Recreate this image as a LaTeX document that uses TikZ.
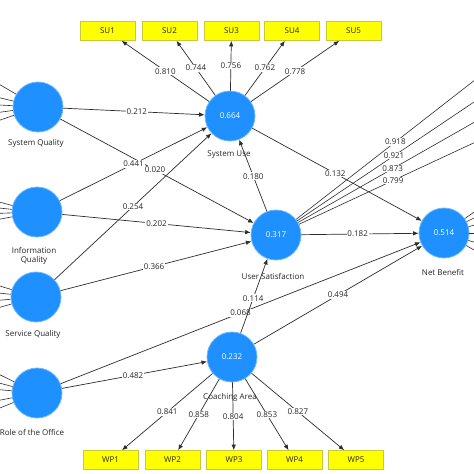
\documentclass[tikz,border=0pt]{standalone}
\usepackage{fontspec}
\setmainfont{Open Sans}
\usetikzlibrary{arrows.meta}
\definecolor{lv}{RGB}{30,144,255}
\definecolor{lvring}{RGB}{110,185,255}
\definecolor{ind}{RGB}{255,255,0}
\definecolor{indborder}{RGB}{200,200,60}
\definecolor{ln}{RGB}{45,45,45}
\begin{document}
\begin{tikzpicture}[x=1pt,y=-1pt,
  font=\fontsize{8}{9.5}\selectfont,
  lvnode/.style={circle, fill=lv, draw=lvring, line width=0.8pt, minimum size=50pt, inner sep=0pt, text=white},
  indbox/.style={rectangle, fill=ind, draw=indborder, line width=0.6pt, minimum width=55pt, minimum height=19pt, inner sep=0pt, text=black!85},
  conn/.style={draw=ln, line width=0.7pt, -{Latex[length=5.5pt,width=4.5pt]}},
  stub/.style={draw=ln, line width=0.6pt},
  lbl/.style={fill=white, inner sep=0.8pt, text=black!85},
  lvname/.style={text=black!85, align=center, inner sep=0pt}]
\clip (0,0) rectangle (474,474);
\fill[white] (0,0) rectangle (474,474);

% latent variables
\node[lvnode] (sq) at (38,107) {};
\node[lvnode] (iq) at (37,212) {};
\node[lvnode] (svq) at (36,297) {};
\node[lvnode] (ro) at (37,393) {};
\node[lvnode] (su) at (230,116) {0.664};
\node[lvnode] (us) at (276,235) {0.317};
\node[lvnode] (nb) at (444,233) {0.514};
\node[lvnode] (ca) at (232,357) {0.232};

% names
\node[lvname] (sqn) at (36,143) {System Quality};
\node[lvname] (iqn) at (34,256) {Information\\Quality};
\node[lvname] (svqn) at (33,334) {Service Quality};
\node[lvname] (ron) at (32,432) {Role of the Office};
\node[lvname] (sun) at (229,155) {System Use};
\node[lvname] (usn) at (273,276) {User Satisfaction};
\node[lvname] (nbn) at (443,272) {Net Benefit};
\node[lvname] (can) at (230,397) {Coaching Area};

% indicator boxes
\node[indbox] (su1) at (107.5,31) {SU1};
\node[indbox] (su2) at (169.5,31) {SU2};
\node[indbox] (su3) at (231.5,31) {SU3};
\node[indbox] (su4) at (292,31) {SU4};
\node[indbox] (su5) at (353.5,31) {SU5};
\node[indbox] (wp1) at (110.5,460) {WP1};
\node[indbox] (wp2) at (172.5,460) {WP2};
\node[indbox] (wp3) at (234,460) {WP3};
\node[indbox] (wp4) at (294.5,460) {WP4};
\node[indbox] (wp5) at (356,460) {WP5};

% off-canvas indicator ends
\coordinate (sqa) at (-20,73);
\coordinate (sqb) at (-20,93);
\coordinate (sqc) at (-20,104);
\coordinate (sqd) at (-20,115);
\coordinate (sqe) at (-20,127);
\coordinate (iqa) at (-20,197);
\coordinate (iqb) at (-20,206);
\coordinate (iqc) at (-20,214);
\coordinate (iqd) at (-20,223);
\coordinate (svqa) at (-20,280);
\coordinate (svqb) at (-20,291);
\coordinate (svqc) at (-20,302);
\coordinate (svqd) at (-20,313);
\coordinate (roa) at (-20,365);
\coordinate (rob) at (-20,378);
\coordinate (roc) at (-20,388);
\coordinate (rod) at (-20,404);
\coordinate (roe) at (-20,416);
\coordinate (nba) at (490,201);
\coordinate (nbb) at (490,210);
\coordinate (nbc) at (490,221);
\coordinate (nbd) at (490,233);
\coordinate (nbe) at (490,247);
\coordinate (nbf) at (490,259);
\coordinate (usa) at (480,76);
\coordinate (usb) at (480,98);
\coordinate (usc) at (480,119);
\coordinate (usd) at (480,140);

% stubs
\foreach \t in {sqa,sqb,sqc,sqd,sqe} \draw[stub] (sq) -- (\t);
\foreach \t in {iqa,iqb,iqc,iqd} \draw[stub] (iq) -- (\t);
\foreach \t in {svqa,svqb,svqc,svqd} \draw[stub] (svq) -- (\t);
\foreach \t in {roa,rob,roc,rod,roe} \draw[stub] (ro) -- (\t);
\foreach \t in {nba,nbb,nbc,nbd,nbe,nbf} \draw[stub] (nb) -- (\t);

% user satisfaction indicators (off canvas)
\draw[stub] (us) -- node[lbl, pos=0.54] {0.918} (usa);
\draw[stub] (us) -- node[lbl, pos=0.53] {0.921} (usb);
\draw[stub] (us) -- node[lbl, pos=0.52] {0.873} (usc);
\draw[stub] (us) -- node[lbl, pos=0.52] {0.799} (usd);

% structural paths
\draw[conn] (sq) -- node[lbl, pos=0.52] {0.212} (su);
\draw[conn] (sq) -- node[lbl, pos=0.49] {0.020} (us);
\draw[conn] (iq) -- node[lbl, pos=0.50] {0.441} (su);
\draw[conn] (iq) -- node[lbl, pos=0.50] {0.202} (us);
\draw[conn] (svq) -- node[lbl, pos=0.50] {0.254} (su);
\draw[conn] (svq) -- node[lbl, pos=0.49] {0.366} (us);
\draw[conn] (ro) -- node[lbl, pos=0.50] {0.068} (nb);
\draw[conn] (ro) -- node[lbl, pos=0.49] {0.482} (ca);
\draw[conn] (ca) -- node[lbl, pos=0.47] {0.114} (us);
\draw[conn] (ca) -- node[lbl, pos=0.50] {0.494} (nb);
\draw[conn] (su) -- node[lbl, pos=0.49] {0.132} (nb);
\draw[conn] (us) -- node[lbl, pos=0.49] {0.180} (su);
\draw[conn] (us) -- node[lbl, pos=0.48] {0.182} (nb);

% measurement paths
\draw[conn] (su) -- node[lbl] {0.810} (su1);
\draw[conn] (su) -- node[lbl] {0.744} (su2);
\draw[conn] (su) -- node[lbl] {0.756} (su3);
\draw[conn] (su) -- node[lbl] {0.762} (su4);
\draw[conn] (su) -- node[lbl] {0.778} (su5);
\draw[conn] (ca) -- node[lbl] {0.841} (wp1);
\draw[conn] (ca) -- node[lbl] {0.858} (wp2);
\draw[conn] (ca) -- node[lbl] {0.804} (wp3);
\draw[conn] (ca) -- node[lbl] {0.853} (wp4);
\draw[conn] (ca) -- node[lbl] {0.827} (wp5);
\end{tikzpicture}
\end{document}
